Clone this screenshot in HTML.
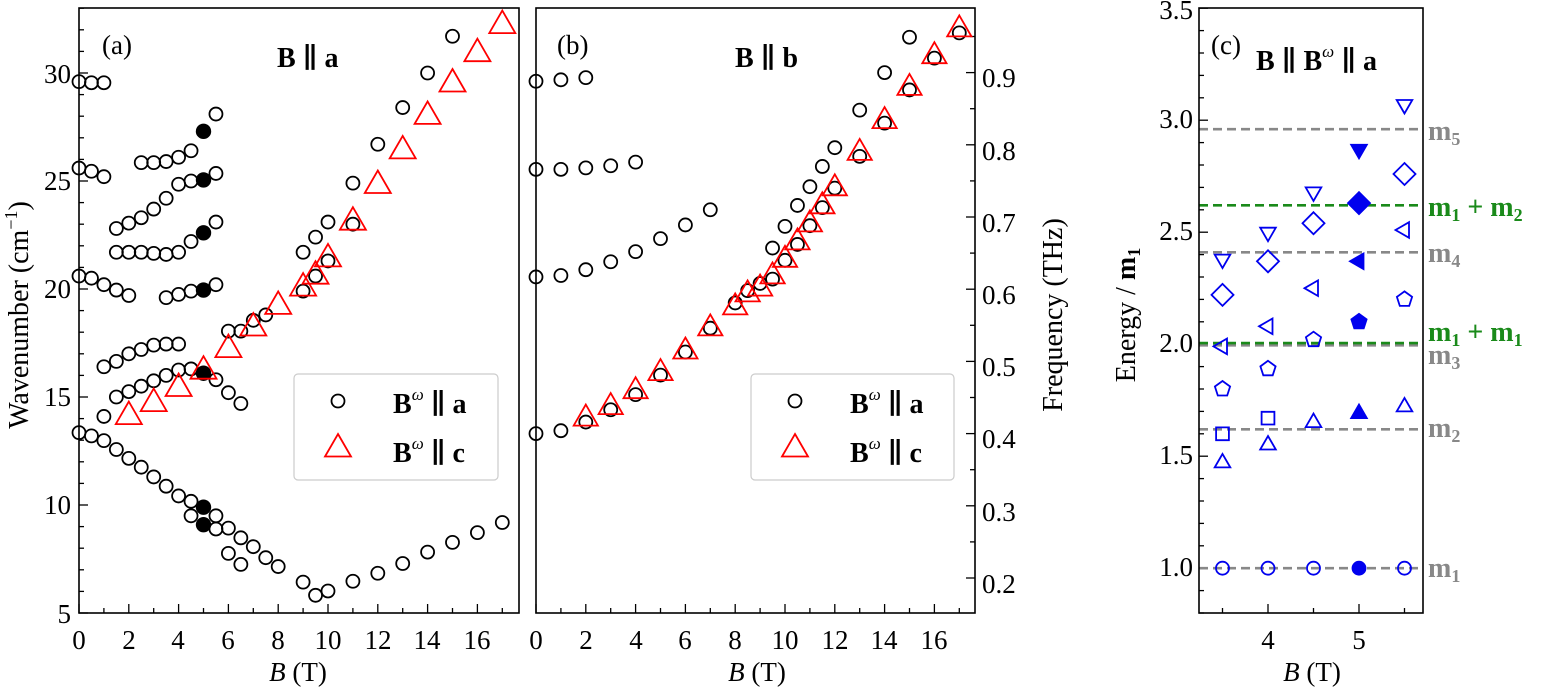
<!DOCTYPE html>
<html><head><meta charset="utf-8"><style>
html,body{margin:0;padding:0;background:#fff}
svg{display:block}
text{font-family:"Liberation Serif","DejaVu Serif",serif;fill:#000}
.t{font-size:27px}
.b{font-weight:bold}
</style></head><body>
<svg id="s" width="1550" height="688" viewBox="0 0 1550 688" xmlns="http://www.w3.org/2000/svg">
<g id="g"></g>
<rect x="79" y="8" width="440" height="605" fill="none" stroke="#000" stroke-width="1.6"/>
<rect x="536" y="8" width="439" height="605" fill="none" stroke="#000" stroke-width="1.6"/>
<rect x="1199" y="8" width="224" height="605" fill="none" stroke="#000" stroke-width="1.6"/>
<text x="102" y="54" font-size="27">(a)</text>
<text x="277" y="67" font-size="28" class="b">B ∥ a</text>
<text x="557" y="54" font-size="27">(b)</text>
<text x="735" y="67" font-size="28" class="b">B ∥ b</text>
<text x="1211" y="54" font-size="27">(c)</text>
<text x="1256" y="70" font-size="28" class="b">B ∥ B<tspan font-size="17" dy="-13" font-style="italic" font-weight="normal">ω</tspan><tspan dy="13"> ∥ a</tspan></text>
<text x="298" y="681" font-size="27" text-anchor="middle"><tspan font-style="italic">B</tspan> (T)</text>
<text x="757" y="681" font-size="27" text-anchor="middle"><tspan font-style="italic">B</tspan> (T)</text>
<text x="1312" y="681" font-size="27" text-anchor="middle"><tspan font-style="italic">B</tspan> (T)</text>
<text transform="translate(28,315) rotate(-90)" font-size="28" text-anchor="middle">Wavenumber (cm<tspan font-size="18" dy="-11">−1</tspan><tspan dy="11">)</tspan></text>
<text transform="translate(1062,315) rotate(-90)" font-size="28" text-anchor="middle">Frequency (THz)</text>
<text transform="translate(1135,315) rotate(-90)" font-size="28" text-anchor="middle">Energy / <tspan font-weight="bold">m<tspan font-size="18" dy="5">1</tspan></tspan></text>
<rect x="294" y="374" width="204" height="106" rx="4" fill="#fff" stroke="#ccc" stroke-width="1.2"/>
<rect x="751" y="374" width="203" height="106" rx="4" fill="#fff" stroke="#ccc" stroke-width="1.2"/>
<g id="leg"></g>
<text x="393" y="413" font-size="28" class="b">B<tspan font-size="17" dy="-13" font-style="italic" font-weight="normal">ω</tspan><tspan dy="13"> ∥ a</tspan></text>
<text x="393" y="462" font-size="28" class="b">B<tspan font-size="17" dy="-13" font-style="italic" font-weight="normal">ω</tspan><tspan dy="13"> ∥ c</tspan></text>
<text x="850" y="413" font-size="28" class="b">B<tspan font-size="17" dy="-13" font-style="italic" font-weight="normal">ω</tspan><tspan dy="13"> ∥ a</tspan></text>
<text x="850" y="462" font-size="28" class="b">B<tspan font-size="17" dy="-13" font-style="italic" font-weight="normal">ω</tspan><tspan dy="13"> ∥ c</tspan></text>
<g class="t" text-anchor="end">
<text x="71" y="623">5</text><text x="71" y="514">10</text><text x="71" y="406">15</text><text x="71" y="298">20</text><text x="71" y="190">25</text><text x="71" y="83">30</text>
</g>
<g class="t" text-anchor="middle">
<text x="79" y="649">0</text><text x="129" y="649">2</text><text x="178" y="649">4</text><text x="228" y="649">6</text><text x="278" y="649">8</text><text x="328" y="649">10</text><text x="378" y="649">12</text><text x="427" y="649">14</text><text x="477" y="649">16</text>
<text x="536" y="649">0</text><text x="586" y="649">2</text><text x="636" y="649">4</text><text x="685" y="649">6</text><text x="735" y="649">8</text><text x="785" y="649">10</text><text x="835" y="649">12</text><text x="884" y="649">14</text><text x="934" y="649">16</text>
<text x="1268" y="649">4</text><text x="1359" y="649">5</text>
</g>
<g class="t">
<text x="982" y="593">0.2</text><text x="982" y="521">0.3</text><text x="982" y="448">0.4</text><text x="982" y="376">0.5</text><text x="982" y="304">0.6</text><text x="982" y="232">0.7</text><text x="982" y="160">0.8</text><text x="982" y="87">0.9</text>
</g>
<g class="t" text-anchor="end">
<text x="1193" y="576">1.0</text><text x="1193" y="464">1.5</text><text x="1193" y="352">2.0</text><text x="1193" y="240">2.5</text><text x="1193" y="128">3.0</text><text x="1193" y="19">3.5</text>
</g>
<g font-size="28" class="b">
<text x="1428" y="140" style="fill:#888">m<tspan font-size="18" dy="5">5</tspan></text>
<text x="1428" y="216" style="fill:#1a8a1a">m<tspan font-size="18" dy="5">1</tspan><tspan dy="-5"> + m</tspan><tspan font-size="18" dy="5">2</tspan></text>
<text x="1428" y="262" style="fill:#888">m<tspan font-size="18" dy="5">4</tspan></text>
<text x="1428" y="341" style="fill:#1a8a1a">m<tspan font-size="18" dy="5">1</tspan><tspan dy="-5"> + m</tspan><tspan font-size="18" dy="5">1</tspan></text>
<text x="1428" y="364" style="fill:#888">m<tspan font-size="18" dy="5">3</tspan></text>
<text x="1428" y="437" style="fill:#888">m<tspan font-size="18" dy="5">2</tspan></text>
<text x="1428" y="577" style="fill:#888">m<tspan font-size="18" dy="5">1</tspan></text>
</g>
</svg>
<script>
var NS="http://www.w3.org/2000/svg",G=document.getElementById("g"),L=document.getElementById("leg");
function el(p,t,a){var e=document.createElementNS(NS,t);for(var k in a)e.setAttribute(k,a[k]);p.appendChild(e);return e;}
function line(x1,y1,x2,y2,c,w,d){var a={x1:x1,y1:y1,x2:x2,y2:y2,stroke:c||"#000","stroke-width":w||1.3};if(d)a["stroke-dasharray"]=d;el(G,"line",a);}
function tick(x,y,dx,dy){line(x,y,x+dx,y+dy);}
var i;
for(i=0;i<=17;i++){var x=79+i*24.9;tick(x,613,0,i%2?-5:-9);}
for(i=5;i<=33;i++){var y=613-(i-5)*21.6;tick(79,y,i%5?5:9,0);}
for(i=0;i<=17;i++){var x=536+i*24.9;tick(x,613,0,i%2?-5:-9);}
for(i=3;i<=19;i++){var f=i*0.05,y=72.6+(0.9-f)*722;if(y>8&&y<613)tick(975,y,i%2?-5:-9,0);}
for(i=7;i<=11;i++){var t=i/2,x=1268+(t-4)*91;tick(x,613,0,i%2?-5:-9);}
for(i=8;i<=35;i++){var e=i/10,y=613-(e-0.8)*224;tick(1199,y,i%5?5:9,0);}
function YC(e){return 613-(e-0.8)*224}
[[2.96,"#888"],[2.41,"#888"],[1.995,"#888"],[1.62,"#888"],[1.0,"#888"]].forEach(function(a){line(1199,YC(a[0]),1423,YC(a[0]),a[1],2.6,"9,5");});
[[2.62,"#1a8a1a"],[2.005,"#1a8a1a"]].forEach(function(a){line(1199,YC(a[0]),1423,YC(a[0]),a[1],2.6,"9,5");});
function circ(p,x,y,r,fill,col){el(p,"circle",{cx:x,cy:y,r:r,fill:fill?col:"none",stroke:col,"stroke-width":1.8});}
function poly(p,pts,fill,col){el(p,"polygon",{points:pts.map(function(q){return q[0].toFixed(1)+","+q[1].toFixed(1)}).join(" "),fill:fill?col:"none",stroke:col,"stroke-width":1.8});}
function reg(x,y,n,r,rot){var a=[];for(var k=0;k<n;k++){var t=rot+k*2*Math.PI/n;a.push([x+r*Math.sin(t),y-r*Math.cos(t)]);}return a;}
function tri(p,x,y,r,fill,col){poly(p,reg(x,y,3,r,0),fill,col);}
function XA(t){return 79+t*24.9}function YA(v){return 613-(v-5)*21.6}
var A=[[0,13.35],[0.5,13.2],[1,12.98],[1.5,12.57],[2,12.16],[2.5,11.75],[3,11.3],[3.5,10.87],[4,10.42],[4.5,10.17],[5.5,9.5],[6,8.93],[6.5,8.48],[7,8.07],[7.5,7.56],[8,7.15],[9,6.43],[9.5,5.82],[10,6.02],[11,6.47],[12,6.84],[13,7.29],[14,7.82],[15,8.27],[16,8.72],[17,9.19],
[4.5,9.5],[5.5,8.89],[6,7.76],[6.5,7.25],
[1,14.1],[1.5,15.0],[2,15.25],[2.5,15.5],[3,15.75],[3.5,16.0],[4,16.25],[4.5,16.3],[5.5,15.8],[6,15.2],[6.5,14.7],
[1,16.4],[1.5,16.65],[2,17.0],[2.5,17.2],[3,17.4],[3.5,17.45],[4,17.45],
[0,20.6],[0.5,20.5],[1,20.2],[1.5,19.95],[2,19.7],[3.5,19.6],[4,19.75],[4.5,19.9],[5.5,20.2],
[6,18.05],[6.5,18.05],[7,18.55],[7.5,18.8],
[9,19.9],[9.5,20.6],[10,21.3],[11,23.0],[9,21.7],[9.5,22.4],[10,23.1],[11,24.9],[12,26.7],[13,28.4],[14,30.0],[15,31.7],
[1.5,21.7],[2,21.7],[2.5,21.7],[3,21.65],[3.5,21.6],[4,21.7],[4.5,22.2],[5.5,23.1],
[1.5,22.8],[2,23.05],[2.5,23.3],[3,23.7],[3.5,24.2],[4,24.85],[4.5,25.0],[5.5,25.35],
[2.5,25.85],[3,25.85],[3.5,25.9],[4,26.1],[4.5,26.4],[5.5,28.1],
[0,25.6],[0.5,25.45],[1,25.2],[0,29.6],[0.5,29.55],[1,29.55]];
A.forEach(function(p){circ(G,XA(p[0]),YA(p[1]),6.5,false,"#000");});
[[5,9.9],[5,9.09],[5,16.1],[5,19.95],[5,22.6],[5,25.05],[5,27.3]].forEach(function(p){circ(G,XA(p[0]),YA(p[1]),6.8,true,"#000");});
[[2,14.0],[3,14.6],[4,15.3],[5,16.1],[6,17.1],[7,18.1],[8,19.1],[9,19.95],[9.5,20.5],[10,21.3],[11,23.0],[12,24.7],[13,26.3],[14,27.9],[15,29.4],[16,30.8],[17,32.1]].forEach(function(p){tri(G,XA(p[0]),YA(p[1])-2,15,false,"#f00");});
function XB(t){return 536+t*24.9}function YB(f){return 72.6+(0.9-f)*722}
[[0,0.40],[1,0.404],[2,0.416],[3,0.433],[4,0.454],[5,0.481],[6,0.513],[7,0.546],[8,0.581],[8.5,0.598],[9,0.608],[9.5,0.657],[10,0.687],[10.5,0.716],[11,0.742],[11.5,0.77],[12,0.796],[13,0.848],[14,0.9],[15,0.949],
[9.5,0.614],[10,0.64],[10.5,0.662],[11,0.688],[11.5,0.713],[12,0.74],[13,0.784],[14,0.83],[15,0.876],[16,0.92],[17,0.955],
[0,0.617],[1,0.619],[2,0.627],[3,0.638],[4,0.652],[5,0.67],[6,0.689],[7,0.71],
[0,0.766],[1,0.766],[2,0.768],[3,0.771],[4,0.776],[0,0.888],[1,0.89],[2,0.893]].forEach(function(p){circ(G,XB(p[0]),YB(p[1]),6.5,false,"#000");});
[[2,0.418],[3,0.434],[4,0.456],[5,0.481],[6,0.511],[7,0.543],[8,0.572],[8.5,0.59],[9,0.598],[9.5,0.615],[10,0.638],[10.5,0.662],[11,0.687],[11.5,0.712],[12,0.737],[13,0.786],[14,0.83],[15,0.876],[16,0.92],[17,0.957]].forEach(function(p){tri(G,XB(p[0]),YB(p[1])-2,14,false,"#f00");});
circ(L,338,401,6.5,false,"#000");tri(L,338,449,15,false,"#f00");
circ(L,795,401,6.5,false,"#000");tri(L,795,449,15,false,"#f00");
var B="#0000ee";
var C={3.5:[1.0,1.47,1.60,1.80,1.99,2.22,2.38],4:[1.0,1.55,1.67,1.89,2.08,2.37,2.50],4.5:[1.0,1.65,null,2.02,2.25,2.54,2.68],5:[1.0,1.69,null,2.10,2.37,2.63,2.87],5.5:[1.0,1.72,null,2.20,2.51,2.76,3.07]};
function XC(t){return 1268+(t-4)*91}
for(var k in C){var t=parseFloat(k),x=XC(t),v=C[k],f=(t==5);
 circ(G,x,YC(v[0]),6.5,f,B);
 poly(G,reg(x,YC(v[1]),3,9,0),f,B);
 if(v[2]!=null)poly(G,reg(x,YC(v[2]),4,9,Math.PI/4),f,B);
 poly(G,reg(x,YC(v[3]),5,8,0),f,B);
 poly(G,reg(x,YC(v[4]),3,9,-Math.PI/2),f,B);
 poly(G,reg(x,YC(v[5]),4,11,0),f,B);
 poly(G,reg(x,YC(v[6]),3,9,Math.PI),f,B);
}
</script>
</body></html>
